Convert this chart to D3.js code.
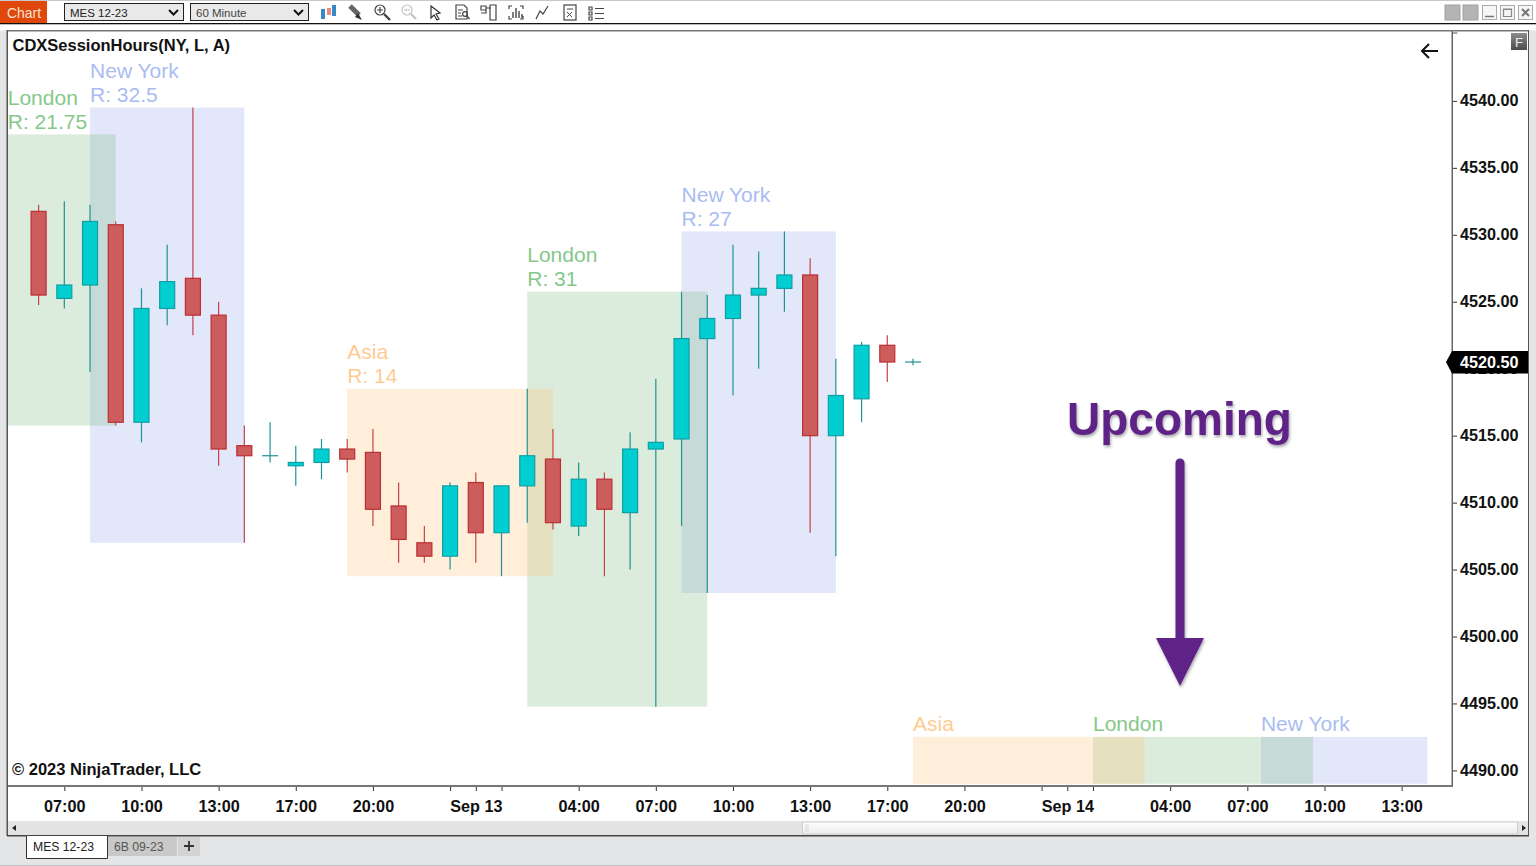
<!DOCTYPE html>
<html><head><meta charset="utf-8">
<style>
html,body{margin:0;padding:0;background:#e4e5e7;overflow:hidden}
svg{display:block}
text{font-family:"Liberation Sans",Arial,sans-serif}
</style>
<script src="https://cdn.jsdelivr.net/npm/d3@7/dist/d3.min.js"></script>
</head><body>
<svg id="c" width="1536" height="866"></svg>
<script>
// ---- data ----
const barOpen  = [4531.75,4525.25,4526.25,4530.75,4516,4524.5,4526.75,4524,4514.25,4513.5,4512.75,4513,4514,4513.75,4509.75,4507,4506,4511.5,4507.75,4511.25,4513.25,4508.25,4511.75,4509.25,4514,4514.75,4522.25,4523.75,4525.5,4526,4527,4515,4517.75,4521.75,4520.5];
const barHigh  = [4532.25,4532.5,4532.25,4531,4526,4529.25,4539.5,4525,4515.75,4516,4514.25,4514.75,4514.75,4515.5,4511.5,4508.25,4511.5,4512.25,4511.25,4518.5,4515.5,4513,4512.25,4515.25,4519.25,4525.75,4525.5,4529.25,4528.75,4530.25,4528.25,4520.75,4522,4522.5,4520.75];
const barLow   = [4524.75,4524.5,4519.75,4515.75,4514.5,4523.25,4522.5,4512.75,4507,4513,4511.25,4511.75,4512.25,4508.25,4505.5,4505.5,4505,4505.5,4504.5,4508.5,4508,4507.5,4504.5,4505,4494.75,4508.25,4503.25,4518,4520,4524.25,4507.75,4506,4516,4519,4520.25];
const barClose = [4525.5,4526.25,4531,4516,4524.5,4526.5,4524,4514,4513.5,4513.5,4513,4514,4513.25,4509.5,4507.25,4506,4511.25,4507.75,4511.25,4513.5,4508.5,4511.75,4509.5,4514,4514.5,4522.25,4523.75,4525.5,4526,4527,4515,4518,4521.75,4520.5,4520.5];

const priceTicks = [4490,4495,4500,4505,4510,4515,4520,4525,4530,4535,4540];
const timeTickIdx   = [1,4,7,10,13,16,17,18,21,24,27,30,33,36,39,40,41,44,47,50,53];
const timeTickLabel = ["07:00","10:00","13:00","17:00","20:00","","Sep 13","","04:00","07:00","10:00","13:00","17:00","20:00","","Sep 14","","04:00","07:00","10:00","13:00"];

// session boxes, in paint order (bar index start/end, price high/low)
const sessionName  = ["New York","New York","New York","London","London","London","Asia","Asia"];
const sessionRange = ["R: 32.5","R: 27","","R: 21.75","R: 31","","R: 14",""];
const sessionStart = [2,25,47.53,-1.2,19,41,12,34];
const sessionEnd   = [8,31,54,3,26,49.55,20,43];
const sessionHigh  = [4539.5,4530.25,4492.5,4537.5,4525.75,4492.5,4518.5,4492.5];
const sessionLow   = [4507,4503.25,4489,4515.75,4494.75,4489,4504.5,4489];
const sessionFill  = {"New York":"#8b9feb","Asia":"#fbbb6b","London":"#73b373"};
const sessionText  = {"New York":"#a9bcf2","Asia":"#ffcb92","London":"#85c88a"};

const lastPrice = 4520.5;

// ---- layout ----
const svg = d3.select("#c");
const P = {l:8,t:31,r:1452,b:786};
const x = d3.scaleLinear().domain([0,34]).range([38.6,913]);
const y = d3.scaleLinear().domain([4490,4540]).range([770.4,100.9]);

svg.append("defs").append("clipPath").attr("id","plot").append("rect")
  .attr("x",P.l).attr("y",P.t).attr("width",P.r-P.l).attr("height",P.b-P.t);
const sh = svg.select("defs").append("filter").attr("id","shadow")
  .attr("x","-10%").attr("y","-10%").attr("width","120%").attr("height","125%");
sh.append("feDropShadow").attr("dx",1).attr("dy",2).attr("stdDeviation",1.6)
  .attr("flood-color","#000").attr("flood-opacity",.35);

// window chrome
svg.append("rect").attr("width",1536).attr("height",866).attr("fill","#e4e5e7");
svg.append("rect").attr("width",1536).attr("height",24).attr("fill","#fff");
svg.append("rect").attr("y",0).attr("width",1536).attr("height",1).attr("fill","#c8c8c8");
svg.append("rect").attr("y",23).attr("width",1536).attr("height",1.5).attr("fill","#111");
svg.append("rect").attr("y",24.5).attr("width",1536).attr("height",6).attr("fill","#fff");
svg.append("rect").attr("y",865).attr("width",1536).attr("height",1).attr("fill","#c4c4c4");
svg.append("rect").attr("x",0).attr("y",1).attr("width",47).attr("height",22).attr("fill","#e0470a");
svg.append("text").attr("x",7).attr("y",17.5).attr("font-size",15).attr("textLength",34).attr("lengthAdjust","spacingAndGlyphs").attr("fill","#fbe3d6").text("Chart");

// dropdowns
function drop(x0,w,label,col){
  svg.append("rect").attr("x",x0+.5).attr("y",3.5).attr("width",w).attr("height",17).attr("fill","#e9e9e9").attr("stroke","#222");
  svg.append("text").attr("x",x0+6).attr("y",16.5).attr("font-size",11.5).attr("fill",col).text(label);
  svg.append("path").attr("d",`M${x0+w-14} 10l4.5 4.5l4.5-4.5`).attr("fill","none").attr("stroke","#111").attr("stroke-width",2);
}
drop(64,119,"MES 12-23","#222");
drop(190,118,"60 Minute","#444");

// toolbar icons
const tb = svg.append("g").attr("fill","none").attr("stroke","#444").attr("stroke-width",1.2);
tb.append("rect").attr("x",321).attr("y",9).attr("width",4).attr("height",10).attr("fill","#3b86c4").attr("stroke","none");
tb.append("rect").attr("x",327).attr("y",8).attr("width",4).attr("height",7).attr("fill","#e98a80").attr("stroke","none");
tb.append("rect").attr("x",332).attr("y",5).attr("width",4).attr("height",11).attr("fill","#3b86c4").attr("stroke","none");
tb.append("path").attr("d","M350 6l9 9").attr("stroke","#666").attr("stroke-width",5);
tb.append("path").attr("d","M358 13l4 7l-7-3z").attr("fill","#333").attr("stroke","none");
tb.append("circle").attr("cx",380).attr("cy",10).attr("r",5);
tb.append("path").attr("d","M384 14l6 6").attr("stroke-width",2.4);
tb.append("path").attr("d","M377 10h6M380 7v6");
const zo = tb.append("g").attr("stroke","#c4c4c4");
zo.append("circle").attr("cx",407).attr("cy",10).attr("r",5);
zo.append("path").attr("d","M411 14l5 5").attr("stroke-width",2.4);
zo.append("path").attr("d","M404 10h6");
tb.append("path").attr("d","M431 6l0 12l3-3l3 5l2-1l-3-5l4-1z").attr("stroke","#333");
tb.append("path").attr("d","M456 5h8l3 3v11h-11zM458 10h5M458 13h3M458 16h4");
tb.append("circle").attr("cx",465).attr("cy",14).attr("r",2.4);
tb.append("path").attr("d","M467 16l2.5 3");
tb.append("path").attr("d","M481 6h5v4h-5zM481 13h5v-3M486 8h5M490 5h6v15h-6z");
tb.append("path").attr("d","M509 9v-3h3M520 6h3v3M509 16v3h3M523 16v3h-3");
tb.append("path").attr("d","M513 18v-6M516 18v-10M519 18v-7M522 18v-4").attr("stroke-width",1.4);
tb.append("path").attr("d","M536 19l4-8l3 3l5-8");
tb.append("rect").attr("x",564).attr("y",5).attr("width",12).attr("height",15);
tb.append("path").attr("d","M567 9h6M567 12l5 5M572 12l-5 5").attr("stroke-width",1);
tb.append("path").attr("d","M589 7h3v3h-3zM589 12h3v3h-3zM589 17h3v3h-3zM595 8.5h9M595 13.5h9M595 18.5h9");

// window buttons
[1445,1463].forEach(b=>svg.append("rect").attr("x",b).attr("y",5).attr("width",15).attr("height",15).attr("fill","#b4b4b4").attr("stroke","#a0a0a0"));
[1482,1500,1518].forEach(b=>svg.append("rect").attr("x",b+.5).attr("y",5.5).attr("width",14).attr("height",14).attr("fill","#f6f6f6").attr("stroke","#aaa"));
svg.append("path").attr("d","M1485 16.5h9").attr("stroke","#777").attr("stroke-width",1.5);
svg.append("path").attr("d","M1503.5 9h8v7.5h-8zM1503.5 9.5h8").attr("stroke","#888").attr("fill","none").attr("stroke-width",1.2);
svg.append("path").attr("d","M1522 9l7 7M1529 9l-7 7").attr("stroke","#777").attr("stroke-width",2);

// chart panel
svg.append("rect").attr("x",P.l).attr("y",30).attr("width",1520).attr("height",805).attr("fill","#fff");
svg.append("rect").attr("x",1528).attr("y",30).attr("width",1).attr("height",805).attr("fill","#555");

// session boxes
const idx = d3.range(sessionName.length);
const gS = svg.append("g").attr("clip-path","url(#plot)");
gS.selectAll("rect").data(idx).join("rect")
  .attr("x",i=>x(sessionStart[i])).attr("width",i=>x(sessionEnd[i])-x(sessionStart[i]))
  .attr("y",i=>y(sessionHigh[i])).attr("height",i=>y(sessionLow[i])-y(sessionHigh[i]))
  .attr("fill",i=>sessionFill[sessionName[i]]).attr("fill-opacity",.25);
const gL = svg.append("g");
idx.forEach(i=>{
  const tx = Math.max(x(sessionStart[i]),P.l-1), ty = y(sessionHigh[i]);
  const t = gL.append("g").attr("font-size",21).attr("fill",sessionText[sessionName[i]]);
  if(sessionRange[i]){
    t.append("text").attr("x",tx).attr("y",ty-29.7).text(sessionName[i]);
    t.append("text").attr("x",tx).attr("y",ty-5.7).text(sessionRange[i]);
  } else {
    t.append("text").attr("x",tx).attr("y",ty-5.7).text(sessionName[i]);
  }
});

// candles
const bars = d3.range(barOpen.length);
const up = i=>barClose[i]>barOpen[i], flat=i=>barClose[i]===barOpen[i];
const wickCol = i=>(flat(i)||up(i))?"#1f9394":"#c5414a";
const gB = svg.append("g");
gB.selectAll("line.w").data(bars).join("line").attr("class","w")
  .attr("x1",i=>x(i)).attr("x2",i=>x(i)).attr("y1",i=>y(barHigh[i])).attr("y2",i=>y(barLow[i]))
  .attr("stroke",wickCol).attr("stroke-width",1.2);
gB.selectAll("rect.b").data(bars.filter(i=>!flat(i))).join("rect").attr("class","b")
  .attr("x",i=>x(i)-7.5).attr("width",15)
  .attr("y",i=>y(Math.max(barOpen[i],barClose[i])))
  .attr("height",i=>Math.abs(y(barOpen[i])-y(barClose[i])))
  .attr("fill",i=>up(i)?"#00ced1":"#cd5c5c")
  .attr("stroke",i=>up(i)?"#0f9fa3":"#bb2f33").attr("stroke-width",1.2);
gB.selectAll("line.d").data(bars.filter(flat)).join("line").attr("class","d")
  .attr("x1",i=>x(i)-8).attr("x2",i=>x(i)+8).attr("y1",i=>y(barOpen[i])).attr("y2",i=>y(barOpen[i]))
  .attr("stroke","#1f9394").attr("stroke-width",1.2);

// annotations
svg.append("text").attr("x",12.5).attr("y",50.5).attr("font-size",16.5).attr("font-weight",700).attr("fill","#111").text("CDXSessionHours(NY, L, A)");
svg.append("text").attr("x",12).attr("y",775).attr("font-size",16.5).attr("font-weight",700).attr("fill","#111").text("© 2023 NinjaTrader, LLC");
svg.append("path").attr("d","M1438 51H1422M1429 44l-7 7l7 7").attr("fill","none").attr("stroke","#111").attr("stroke-width",2);
const up1 = svg.append("g").attr("filter","url(#shadow)").attr("fill","#5f2387");
up1.append("text").attr("x",1067).attr("y",435).attr("font-size",46).attr("font-weight",700).text("Upcoming");
up1.append("path").attr("d","M1180 463V640").attr("stroke","#5f2387").attr("stroke-width",9).attr("stroke-linecap","round");
up1.append("path").attr("d","M1156 638H1204L1180 686Z");

// axes
const axY = d3.axisRight(y).tickValues(priceTicks).tickFormat(d3.format(".2f")).tickSize(5).tickPadding(3);
const gY = svg.append("g").attr("transform",`translate(${P.r},0)`).call(axY);
gY.select(".domain").remove();
gY.selectAll("line").attr("stroke","#333").attr("x1",1);
gY.selectAll("text").attr("font-size",16.2).attr("font-weight",700).attr("fill","#111").attr("x",8).attr("dy","0.3em")
  .attr("font-family",'"Liberation Sans",Arial,sans-serif');
const axX = d3.axisBottom(x).tickValues(timeTickIdx).tickFormat((d,i)=>timeTickLabel[i]).tickSize(5).tickPadding(9.5);
const gX = svg.append("g").attr("transform",`translate(0,${P.b})`).call(axX);
gX.select(".domain").remove();
gX.selectAll("line").attr("stroke","#333");
gX.selectAll("text").attr("font-size",16.2).attr("font-weight",700).attr("fill","#111").attr("font-family",'"Liberation Sans",Arial,sans-serif');

// plot frame
svg.append("rect").attr("x",P.l).attr("y",785).attr("width",P.r-P.l+1).attr("height",2).attr("fill","#777");
svg.append("rect").attr("x",P.r-.5).attr("y",30).attr("width",1.5).attr("height",756).attr("fill","#666");
svg.append("rect").attr("x",P.l-1).attr("y",30).attr("width",1521).attr("height",1.5).attr("fill","#777");
svg.append("rect").attr("x",P.l-1.5).attr("y",30).attr("width",1.5).attr("height",806).attr("fill","#555");
svg.append("path").attr("d","M1452.5 33h5").attr("stroke","#555");

// F button
const gradF = svg.select("defs").append("linearGradient").attr("id","fb").attr("x1",0).attr("x2",0).attr("y1",0).attr("y2",1);
gradF.append("stop").attr("offset",0).attr("stop-color","#8c8c8c");
gradF.append("stop").attr("offset",1).attr("stop-color","#4c4c4c");
svg.append("rect").attr("x",1511).attr("y",33).attr("width",16).attr("height",17).attr("fill","url(#fb)");
svg.append("text").attr("x",1519).attr("y",46.5).attr("text-anchor","middle").attr("font-size",13).attr("fill","#eee").text("F");

// last price flag
const ly = y(lastPrice);
svg.append("path").attr("d",`M1446 ${ly}L1452 ${ly-11}H1528V${ly+11.5}H1452Z`).attr("fill","#000");
svg.append("text").attr("x",1460).attr("y",ly+6).attr("font-size",16.2).attr("font-weight",700).attr("fill","#fff").text(d3.format(".2f")(lastPrice));

// scrollbar
svg.append("rect").attr("x",8).attr("y",821).attr("width",1520).attr("height",14).attr("fill","#e3e3e3");
const gs = svg.select("defs").append("linearGradient").attr("id","sb").attr("x1",0).attr("x2",0).attr("y1",0).attr("y2",1);
gs.append("stop").attr("offset",0).attr("stop-color","#fdfdfd");
gs.append("stop").attr("offset",1).attr("stop-color","#ececec");
svg.append("rect").attr("x",802.5).attr("y",822).attr("width",715).attr("height",12).attr("fill","url(#sb)").attr("stroke","#cfcfcf");
svg.append("path").attr("d","M806 824v8M808 824v8").attr("stroke","#d8d8d8");
svg.append("path").attr("d","M16 825l-4 3l4 3z").attr("fill","#222");
svg.append("path").attr("d","M1522 825l4 3l-4 3z").attr("fill","#222");
svg.append("rect").attr("x",P.l-1).attr("y",835).attr("width",1522).attr("height",1.5).attr("fill","#444");

// tabs
svg.append("rect").attr("x",108).attr("y",837).attr("width",69).attr("height",19).attr("fill","#c9c9c9");
svg.append("rect").attr("x",178).attr("y",837).attr("width",22).attr("height",19).attr("fill","#d3d3d3");
svg.append("rect").attr("x",26.5).attr("y",836).attr("width",81).attr("height",22).attr("fill","#fff");
svg.append("path").attr("d","M26.5 836V858.5H107.5V836").attr("fill","none").attr("stroke","#333");
svg.append("text").attr("x",33).attr("y",851).attr("font-size",12.2).attr("fill","#222").text("MES 12-23");
svg.append("text").attr("x",114).attr("y",851).attr("font-size",12.2).attr("fill","#555").text("6B 09-23");
svg.append("path").attr("d","M184 846h10M189 841v10").attr("stroke","#333").attr("stroke-width",1.8);
</script>
</body></html>
